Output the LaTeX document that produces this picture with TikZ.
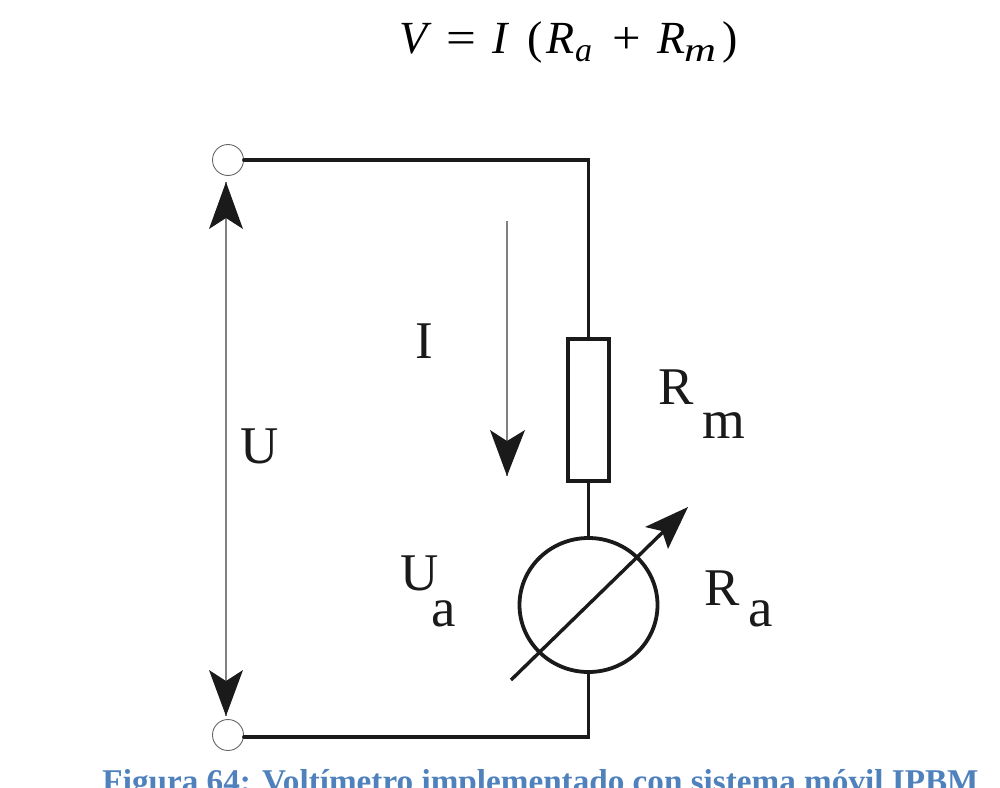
\documentclass[tikz,border=0pt]{standalone}
\usepackage{graphicx}
\usepackage{fontspec}
\setmainfont{Liberation Serif}
\usetikzlibrary{shapes.geometric}
\definecolor{capblue}{HTML}{4F81BD}
\definecolor{ink}{HTML}{1A1A1A}
\newcommand{\eqg}[2]{\makebox[#1pt][l]{#2}}
\newcommand{\eqsub}[2]{\raisebox{-8pt}{\fontsize{34}{34}\selectfont\itshape\scalebox{#1}[1]{#2}}}
\tikzset{
  wire/.style={draw=ink,line width=3.8pt,line cap=round,line join=miter},
  thin line/.style={draw=black!50,line width=1.1pt},
  terminal/.style={circle,draw=black!60,line width=0.9pt,fill=white,minimum size=31pt,inner sep=0pt},
  head/.style={fill=ink,draw=none},
  lab/.style={inner sep=0pt,anchor=base west,text=ink,font=\fontsize{53}{53}\selectfont},
  sublab/.style={inner sep=0pt,anchor=base west,text=ink,font=\fontsize{55}{55}\selectfont},
}
\begin{document}
\begin{tikzpicture}[x=1pt,y=-1pt]
\useasboundingbox (0,0) rectangle (1000,787);
\clip (0,0) rectangle (1000,787);
\fill[white] (0,0) rectangle (1000,787);
% equation
\node[inner sep=0pt,anchor=base west,text=black,font=\fontsize{46}{46}\selectfont] (eq) at (399,53) {\eqg{47}{\itshape V}\eqg{46}{\scalebox{1.15}[1]{=}}\eqg{35}{\itshape I}\eqg{19}{(}\eqg{29}{\itshape R}\eqg{37}{\eqsub{1}{a}}\eqg{45}{\scalebox{1.1}[1]{+}}\eqg{27}{\itshape R}\eqg{38}{\eqsub{1.3}{m}}\eqg{16}{)}};
% terminals
\node[terminal] (t1) at (228,160) {};
\node[terminal] (t2) at (228,735) {};
% components
\node[draw=ink,line width=3.8pt,minimum width=41pt,minimum height=142pt,inner sep=0pt] (rm) at (588.5,410) {};
\node[ellipse,draw=ink,line width=3.8pt,minimum width=138pt,minimum height=134pt,inner sep=0pt] (ra) at (588.5,605) {};
\coordinate (c1) at (588.5,160);
\coordinate (c2) at (588.5,737);
\draw[wire] (t1.east) -- (c1) -- (rm.north);
\draw[wire] (rm.south) -- (ra.north);
\draw[wire] (ra.south) -- (c2) -- (t2.east |- c2);
% U arrow
\coordinate (ua) at (226,182);
\coordinate (ub) at (226,716);
\draw[thin line] (ua) -- (ub);
\fill[head] (ua) -- (243,229) -- (226,218) -- (209,229) -- cycle;
\fill[head] (ub) -- (243,670) -- (226,681) -- (209,670) -- cycle;
% I arrow
\coordinate (ia) at (507,221);
\coordinate (ib) at (507,476);
\draw[thin line] (ia) -- (ib);
\fill[head] (ib) -- (525,430) -- (507,441) -- (490,430) -- cycle;
% variable arrow
\coordinate (va) at (511,680);
\coordinate (vb) at (688,507);
\draw[draw=ink,line width=3.4pt] (va) -- (665,530);
\fill[head] (vb) -- (668,549) -- (662,531) -- (645,527) -- cycle;
% labels
\node[lab] (li) at (415,358) {I};
\node[lab] (lu) at (240,463) {U};
\node[lab] (lr) at (658,404) {R};
\node[sublab] (lm) at (702,438) {m};
\node[lab] (lua) at (400,590) {U};
\node[sublab] (la1) at (431,626) {a};
\node[lab] (lr2) at (704,605) {R};
\node[sublab] (la2) at (748,626) {a};
% caption
\node[inner sep=0pt,anchor=base,text=capblue,font=\fontsize{33.2}{33.2}\selectfont\bfseries] (cap) at (540.5,792) {Figura 64: Voltímetro implementado con sistema móvil IPBM};
\end{tikzpicture}
\end{document}
